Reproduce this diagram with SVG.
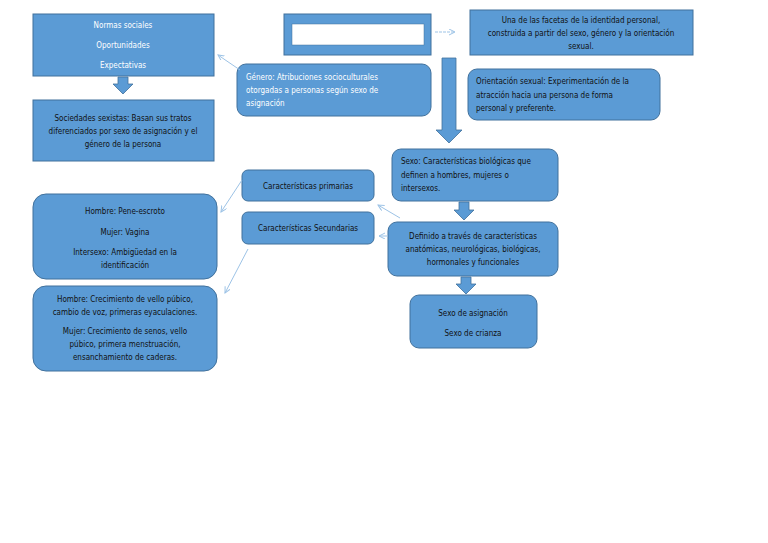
<svg xmlns="http://www.w3.org/2000/svg" width="768" height="543" viewBox="0 0 768 543">
<style>
.b{fill:#5b9bd5;stroke:#41719c;stroke-width:1}
text{font-family:"DejaVu Sans Condensed","Liberation Sans",sans-serif;font-size:8px;fill:#111}
.w{fill:#fff}
.c{text-anchor:middle}
.ln{stroke:#9dc3e6;stroke-width:1;fill:none;marker-end:url(#ah)}
.ba{fill:#5b9bd5;stroke:#41719c;stroke-width:0.8}
</style>
<defs><marker id="ah" markerWidth="8" markerHeight="8" refX="6" refY="3" orient="auto" markerUnits="userSpaceOnUse"><path d="M0,0 L6,3 L0,6" fill="none" stroke="#9dc3e6"/></marker></defs>
<rect width="768" height="543" fill="#fff"/>
<g id="normas"><rect class="b" x="33" y="14" width="181" height="62"/>
<text class="w c" x="123" y="28">Normas sociales</text><text class="w c" x="123" y="48">Oportunidades</text><text class="w c" x="123" y="68">Expectativas</text></g>
<g id="sexistas"><rect class="b" x="33" y="100" width="181" height="61"/>
<text class="c" x="123" y="121">Sociedades sexistas: Basan sus tratos</text><text class="c" x="123" y="134">diferenciados por sexo de asignación y el</text><text class="c" x="123" y="147">género de la persona</text></g>
<g id="top"><rect class="b" x="284" y="14" width="147" height="41"/><rect x="292" y="24" width="132" height="21" fill="#fff" stroke="#41719c" stroke-width="0.5"/></g>
<g id="una"><rect class="b" x="470" y="10" width="223" height="45"/>
<text class="c" x="581" y="23">Una de las facetas de la identidad personal,</text><text class="c" x="581" y="36">construida a partir del sexo, género y la orientación</text><text class="c" x="581" y="49">sexual.</text></g>
<g id="genero"><rect class="b" x="237" y="64" width="194" height="52" rx="9"/>
<text class="w" x="246" y="80">Género: Atribuciones socioculturales</text><text class="w" x="246" y="93">otorgadas a personas según sexo de</text><text class="w" x="246" y="106">asignación</text></g>
<g id="orientacion"><rect class="b" x="468" y="69" width="192" height="51" rx="9"/>
<text x="476" y="84">Orientación sexual: Experimentación de la</text><text x="476" y="98">atracción hacia una persona de forma</text><text x="476" y="111">personal y preferente.</text></g>
<g id="sexo"><rect class="b" x="392" y="149" width="166" height="52" rx="9"/>
<text x="401" y="164">Sexo: Características biológicas que</text><text x="401" y="178">definen a hombres, mujeres o</text><text x="401" y="191">intersexos.</text></g>
<g id="definido"><rect class="b" x="388" y="222" width="170" height="54" rx="9"/>
<text class="c" x="473" y="239">Definido a través de características</text><text class="c" x="473" y="252">anatómicas, neurológicas, biológicas,</text><text class="c" x="473" y="265">hormonales y funcionales</text></g>
<g id="asignacion"><rect class="b" x="410" y="295" width="127" height="53" rx="9"/>
<text class="c" x="473" y="316">Sexo de asignación</text><text class="c" x="473" y="336">Sexo de crianza</text></g>
<g id="primarias"><rect class="b" x="242" y="170" width="132" height="31" rx="6"/><text class="c" x="308" y="189">Características primarias</text></g>
<g id="secundarias"><rect class="b" x="242" y="212" width="132" height="32" rx="6"/><text class="c" x="308" y="231">Características Secundarias</text></g>
<g id="hombre1"><rect class="b" x="33" y="194" width="184" height="85" rx="13"/>
<text class="c" x="125" y="214">Hombre: Pene-escroto</text><text class="c" x="125" y="235">Mujer: Vagina</text><text class="c" x="125" y="255">Intersexo: Ambigüedad en la</text><text class="c" x="125" y="268">identificación</text></g>
<g id="hombre2"><rect class="b" x="33" y="286" width="184" height="85" rx="13"/>
<text class="c" x="125" y="302">Hombre: Crecimiento de vello púbico,</text><text class="c" x="125" y="315">cambio de voz, primeras eyaculaciones.</text><text class="c" x="125" y="334">Mujer: Crecimiento de senos, vello</text><text class="c" x="125" y="347">púbico, primera menstruación,</text><text class="c" x="125" y="360">ensanchamiento de caderas.</text></g>
<g id="connectors">
<path class="ba" d="M118,77 H128 V84 H133 L123,94 L113,84 H118 Z"/>
<path class="ba" d="M442,58 H456 V130 H462 L449,143 L436,130 H442 Z"/>
<path class="ba" d="M459,202 H469 V210 H474 L464,220 L454,210 H459 Z"/>
<path class="ba" d="M461,277 H471 V284 H476 L466,294 L456,284 H461 Z"/>
<path class="ln" d="M435,32 H455" stroke-dasharray="3,1"/>
<path class="ln" d="M240,70 L218,55"/>
<path class="ln" d="M400,218 L378,205"/>
<path class="ln" d="M388,236 H379"/>
<path class="ln" d="M242,180 L221,212"/>
<path class="ln" d="M248,249 L225,293"/>
</g>
</svg>
